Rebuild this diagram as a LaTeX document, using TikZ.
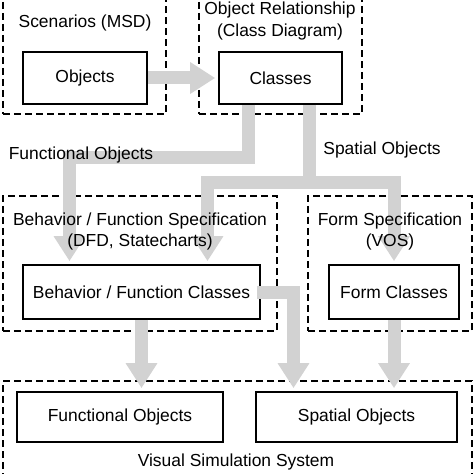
\documentclass[tikz,border=0pt]{standalone}
\usepackage{fontspec}
\setmainfont{Liberation Sans}
\usepackage{tikz}
\usetikzlibrary{arrows.meta}
\tikzset{
    group/.style={draw=black, dash pattern=on 7bp off 4bp, line width=1.6bp, inner sep=0pt},
    block/.style={draw=black, line width=1.6bp, inner sep=0pt, align=center},
    bigarrow/.style={draw=gray!35, line width=13bp, -{Triangle[width=30bp,length=25bp]}, shorten >=3bp},
    caption/.style={align=center},
}

\begin{document}
\begin{tikzpicture}[x=1bp, y=-1bp, every node/.style={font=\fontsize{17.5}{21.5}\selectfont}]
	\useasboundingbox (0,0) rectangle (474,474);
	% dashed groups
	\node[group, minimum width=163bp, minimum height=124bp] (scen) at (84.5,52) {};
	\node[group, minimum width=163bp, minimum height=124bp] (orel) at (280.5,52) {};
	\node[group, minimum width=274bp, minimum height=135bp] (bfs) at (140,263.5) {};
	\node[group, minimum width=164bp, minimum height=135bp] (fs) at (390,263.5) {};
	\node[group, minimum width=469bp, minimum height=103bp] (vss) at (237.5,432.5) {};
	% blocks
	\node[block, minimum width=124bp, minimum height=52bp] (obj) at (85,78) {Objects};
	\node[block, minimum width=123bp, minimum height=52bp] (cls) at (280.5,78) {Classes};
	\node[block, minimum width=237bp, minimum height=54bp] (bfc) at (141.5,292) {Behavior / Function Classes};
	\node[block, minimum width=130bp, minimum height=54bp] (fc) at (394,292) {Form Classes};
	\node[block, minimum width=206bp, minimum height=50bp] (fo) at (120,417) {Functional Objects};
	\node[block, minimum width=201bp, minimum height=50bp] (so) at (356.5,417) {Spatial Objects};
	% arrows
	\draw[bigarrow] (obj.east) -- (cls.west);
	\draw[bigarrow] ([xshift=-32bp]cls.south) -- ++(0,53) -| ([xshift=-72bp]bfc.north);
	\draw[bigarrow] ([xshift=29bp]cls.south) -- ++(0,78) coordinate (sbr) -| ([xshift=66bp]bfc.north);
	\draw[bigarrow] (sbr) -| (fc.north);
	\draw[bigarrow] (bfc.south) -- (bfc.south |- fo.north);
	\draw[bigarrow] ([xshift=-4bp]bfc.east) -| ([xshift=-63bp]so.north);
	\draw[bigarrow] (fc.south) -- (fc.south |- so.north);
	% labels
	\node (scenlbl) at (85,23) {Scenarios (MSD)};
	\node[caption] (orellbl) at (280,21) {Object Relationship\\(Class Diagram)};
	\node (fnllbl) at (81,155) {Functional Objects};
	\node (spllbl) at (382,150) {Spatial Objects};
	\node[caption] (bfslbl) at (140,231.5) {Behavior / Function Specification\\(DFD, Statecharts)};
	\node[caption] (fslbl) at (390,231.5) {Form Specification\\(VOS)};
	\node (vsslbl) at (236,462) {Visual Simulation System};
\end{tikzpicture}
\end{document}
